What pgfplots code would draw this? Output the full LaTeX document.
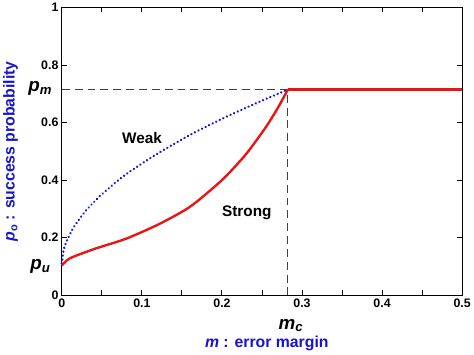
\documentclass[border=0pt]{standalone}
\usepackage{pgfplots}
\pgfplotsset{compat=1.18}
\usepackage{fontspec}
\setmainfont{Liberation Sans}
\definecolor{myred}{RGB}{235,20,20}
\definecolor{myblue}{RGB}{20,20,210}
\begin{document}
\begin{tikzpicture}
\begin{axis}[
  scale only axis, width=405pt, height=291pt,
  xmin=0, xmax=0.5, ymin=0, ymax=1,
  axis line style={line width=1.1pt},
  xtick={0,0.1,0.2,0.3,0.4,0.5},
  xticklabels={0,0.1,0.2,0.3,0.4,0.5},
  ytick={0,0.2,0.4,0.6,0.8,1},
  yticklabels={0,0.2,0.4,0.6,0.8,1},
  extra x ticks={0.05,0.15,0.25,0.35,0.45},
  extra x tick labels={},
  major tick length=5pt,
  every tick/.style={black, line width=1pt},
  ticklabel style={font=\fontsize{12.5}{13}\selectfont\bfseries},
  unbounded coords=jump,
  clip=false,
]
% tick marks on all four sides
\addplot[black, line width=1pt, forget plot] coordinates {
(0.05,0) (0.05,0.017) (nan,nan) (0.1,0) (0.1,0.017) (nan,nan) (0.15,0) (0.15,0.017) (nan,nan)
(0.2,0) (0.2,0.017) (nan,nan) (0.25,0) (0.25,0.017) (nan,nan) (0.3,0) (0.3,0.017) (nan,nan)
(0.35,0) (0.35,0.017) (nan,nan) (0.4,0) (0.4,0.017) (nan,nan) (0.45,0) (0.45,0.017) (nan,nan)
(0.05,1) (0.05,0.983) (nan,nan) (0.1,1) (0.1,0.983) (nan,nan) (0.15,1) (0.15,0.983) (nan,nan)
(0.2,1) (0.2,0.983) (nan,nan) (0.25,1) (0.25,0.983) (nan,nan) (0.3,1) (0.3,0.983) (nan,nan)
(0.35,1) (0.35,0.983) (nan,nan) (0.4,1) (0.4,0.983) (nan,nan) (0.45,1) (0.45,0.983) (nan,nan)
(0,0.2) (0.0062,0.2) (nan,nan) (0,0.4) (0.0062,0.4) (nan,nan) (0,0.6) (0.0062,0.6) (nan,nan) (0,0.8) (0.0062,0.8) (nan,nan)
(0.5,0.2) (0.4938,0.2) (nan,nan) (0.5,0.4) (0.4938,0.4) (nan,nan) (0.5,0.6) (0.4938,0.6) (nan,nan) (0.5,0.8) (0.4938,0.8)};
\addplot[black!75, line width=1.1pt, dash pattern=on 8pt off 5pt] coordinates {(0,0.715) (0.2823,0.715) (0.2823,0)};
\addplot[myblue, line width=2.6pt, dash pattern=on 0.01pt off 4pt, line cap=round, smooth, tension=0.4] coordinates {
(0,0.11) (0.002,0.154) (0.006,0.188) (0.015,0.237) (0.03,0.294) (0.05,0.351) (0.08,0.42) (0.12,0.493) (0.16,0.557) (0.2,0.613) (0.24,0.664) (0.2815,0.714)};
\addplot[myred, line width=2.4pt, smooth, tension=0.4] coordinates {
(0,0.103) (0.01,0.128) (0.04,0.16) (0.08,0.196) (0.12,0.245) (0.16,0.307) (0.2,0.40) (0.23,0.49) (0.255,0.585) (0.27,0.652) (0.2823,0.715)};
\addplot[myred, line width=2.4pt] coordinates {(0.2823,0.715) (0.5,0.715)};
\node[font=\fontsize{15.5}{16}\selectfont\bfseries] at (axis cs:0.1,0.545) {Weak};
\node[font=\fontsize{15.5}{16}\selectfont\bfseries] at (axis cs:0.231,0.285) {Strong};
\node[font=\fontsize{19}{20}\selectfont\bfseries\itshape] at (axis cs:-0.027,0.718) {p\textsubscript{m}};
\node[font=\fontsize{19}{20}\selectfont\bfseries\itshape] at (axis cs:-0.027,0.1) {p\textsubscript{u}};
\node[font=\fontsize{19}{20}\selectfont\bfseries\itshape] at (axis cs:0.286,-0.105) {m\textsubscript{c}};
\node[font=\fontsize{16}{17}\selectfont\bfseries, text=myblue] at (axis cs:0.256,-0.168) {\textit{m} : error margin};
\node[font=\fontsize{16}{17}\selectfont\bfseries, text=myblue, rotate=90] at (axis cs:-0.064,0.5) {\textit{p}\textsubscript{\normalfont\bfseries o} : success probability};
\end{axis}
\end{tikzpicture}
\end{document}
